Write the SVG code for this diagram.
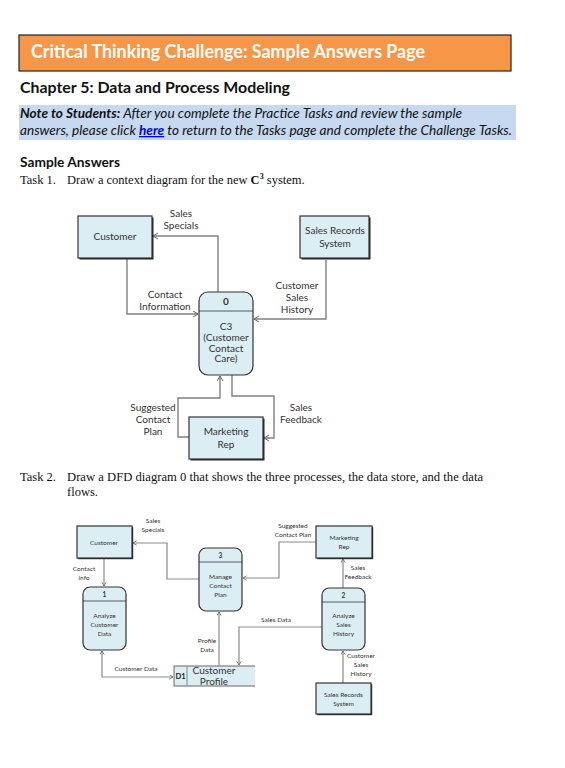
<svg xmlns="http://www.w3.org/2000/svg" width="565" height="768" viewBox="0 0 565 768">
<style>
.hd{font-family:Lato,"Open Sans",sans-serif;font-weight:bold;fill:#111}
.note{font-family:Lato,"Open Sans",sans-serif;font-style:italic;font-size:13px;fill:#111}
.ser{font-family:"Liberation Serif",serif;font-size:12.5px;fill:#111}
.lb{font-family:Lato,"Open Sans",sans-serif;font-size:10px;fill:#333;text-anchor:middle}
.lb2{font-family:Lato,"Open Sans",sans-serif;font-size:6.5px;fill:#333;text-anchor:middle}
.ent{fill:#dbeef4;stroke:#333;stroke-width:1.2}
.sh{fill:#222}
.proc{fill:#dbeef4;stroke:#333;stroke-width:1.2}
.div{stroke:#333;stroke-width:0.8}
.fl{fill:none;stroke:#808080;stroke-width:1.4}
.fl2{fill:none;stroke:#8a8a8a;stroke-width:1.2}
</style>
<defs>
<marker id="a1" markerUnits="userSpaceOnUse" markerWidth="8" markerHeight="8" refX="6" refY="3.5" orient="auto-start-reverse"><path d="M1,0.5 L6,3.5 L1,6.5" fill="none" stroke="#666" stroke-width="1"/></marker>
<marker id="a2" markerUnits="userSpaceOnUse" markerWidth="6" markerHeight="6" refX="4.5" refY="2.5" orient="auto-start-reverse"><path d="M0.8,0.3 L4.5,2.5 L0.8,4.7" fill="none" stroke="#666" stroke-width="0.8"/></marker>
</defs>
<rect width="565" height="768" fill="#fff"/>
<g id="header">
<rect x="19" y="35" width="492" height="36" fill="#f79646" stroke="#222" stroke-width="1.2"/>
<text x="31" y="58" font-family="Lato,'Open Sans',sans-serif" font-weight="bold" font-size="18" fill="#fff" textLength="394" lengthAdjust="spacingAndGlyphs">Critical Thinking Challenge:  Sample Answers Page</text>
<text class="hd" x="20" y="93" font-size="16" textLength="270" lengthAdjust="spacingAndGlyphs">Chapter 5:  Data and Process Modeling</text>
<rect x="19" y="105" width="497" height="35" fill="#c6d9f0"/>
<text class="note" x="20" y="118" textLength="442" lengthAdjust="spacingAndGlyphs"><tspan font-weight="bold">Note to Students:</tspan>  After you complete the Practice Tasks and review the sample</text>
<text class="note" x="20" y="135" textLength="492" lengthAdjust="spacingAndGlyphs">answers, please click <tspan font-weight="bold" fill="#0000ee" text-decoration="underline">here</tspan> to return to the Tasks page and complete the Challenge Tasks.</text>
<text class="hd" x="20" y="167" font-size="14" textLength="100" lengthAdjust="spacingAndGlyphs">Sample Answers</text>
<text class="ser" x="20" y="184">Task 1.</text>
<text class="ser" x="67" y="184">Draw a context diagram for the new <tspan font-weight="bold">C</tspan><tspan font-weight="bold" font-size="8" dy="-5">3</tspan><tspan dy="5"> system.</tspan></text>
<text class="ser" x="20" y="481">Task 2.</text>
<text class="ser" x="67" y="481" textLength="416" lengthAdjust="spacingAndGlyphs">Draw a DFD diagram 0 that shows the three processes, the data store, and the data</text>
<text class="ser" x="67" y="496">flows.</text>
</g>
<g id="connectors1">
<path class="fl" d="M218,292 V236 H153" marker-end="url(#a1)"/>
<path class="fl" d="M127,258 V314 H198" marker-end="url(#a1)"/>
<path class="fl" d="M326,260 V319 H254" marker-end="url(#a1)"/>
<path class="fl" d="M189,437 H178 V398 H220 V376" marker-end="url(#a1)"/>
<path class="fl" d="M232,375 V396 H274 V438 H264" marker-end="url(#a1)"/>
<text class="lb" x="181" y="217">Sales</text>
<text class="lb" x="181" y="229">Specials</text>
<text class="lb" x="165" y="298">Contact</text>
<text class="lb" x="165" y="310">Information</text>
<text class="lb" x="297" y="289">Customer</text>
<text class="lb" x="297" y="301">Sales</text>
<text class="lb" x="297" y="313">History</text>
<text class="lb" x="153" y="411">Suggested</text>
<text class="lb" x="153" y="423">Contact</text>
<text class="lb" x="153" y="435">Plan</text>
<text class="lb" x="301" y="411">Sales</text>
<text class="lb" x="301" y="423">Feedback</text>
</g>
<g id="t1-customer">
<rect class="sh" x="79.5" y="217.5" width="74" height="42"/>
<rect class="ent" x="78" y="216" width="74" height="42"/>
<text class="lb" x="115" y="240">Customer</text>
</g>
<g id="t1-salesrecords">
<rect class="sh" x="301.5" y="217.5" width="69" height="42"/>
<rect class="ent" x="300" y="216" width="69" height="42"/>
<text class="lb" x="335" y="234">Sales Records</text>
<text class="lb" x="335" y="247">System</text>
</g>
<g id="t1-process0">
<rect class="proc" x="199" y="292" width="54" height="83" rx="9"/>
<line class="div" x1="199" y1="311" x2="253" y2="311"/>
<text class="lb" x="226" y="305" font-size="8" font-weight="bold">0</text>
<text class="lb" x="226" y="330">C3</text>
<text class="lb" x="226" y="341" font-size="7">(Customer</text>
<text class="lb" x="226" y="351.5" font-size="7">Contact</text>
<text class="lb" x="226" y="362" font-size="7">Care)</text>
</g>
<g id="t1-marketing">
<rect class="sh" x="190.5" y="418.5" width="74" height="42"/>
<rect class="ent" x="189" y="417" width="74" height="42"/>
<text class="lb" x="226" y="435">Marketing</text>
<text class="lb" x="226" y="448">Rep</text>
</g>
<g id="connectors2">
<path class="fl2" d="M199,579 H167 V543 H133" marker-end="url(#a2)"/>
<path class="fl2" d="M104,558 V586" marker-end="url(#a2)"/>
<path class="fl2" d="M316,542 H279 V578 H243" marker-end="url(#a2)"/>
<path class="fl2" d="M343,588 V559" marker-end="url(#a2)"/>
<path class="fl2" d="M343,683 V651" marker-end="url(#a2)"/>
<path class="fl2" d="M322,627 H239 V665" marker-end="url(#a2)"/>
<path class="fl2" d="M219,666 V612" marker-end="url(#a2)"/>
<path class="fl2" d="M102,651 V677 H173" marker-start="url(#a2)" marker-end="url(#a2)"/>
<text class="lb2" x="153" y="523">Sales</text>
<text class="lb2" x="153" y="532">Specials</text>
<text class="lb2" x="84" y="571">Contact</text>
<text class="lb2" x="84" y="580">info</text>
<text class="lb2" x="293" y="528">Suggested</text>
<text class="lb2" x="293" y="537">Contact Plan</text>
<text class="lb2" x="358" y="570">Sales</text>
<text class="lb2" x="358" y="579">Feedback</text>
<text class="lb2" x="361" y="658">Customer</text>
<text class="lb2" x="361" y="667">Sales</text>
<text class="lb2" x="361" y="676">History</text>
<text class="lb2" x="276" y="622">Sales Data</text>
<text class="lb2" x="207" y="643">Profile</text>
<text class="lb2" x="207" y="652">Data</text>
<text class="lb2" x="136" y="671">Customer Data</text>
</g>
<g id="t2-customer">
<rect class="sh" x="78.2" y="527.2" width="55" height="32"/>
<rect class="ent" x="77" y="526" width="55" height="32"/>
<text class="lb2" x="104" y="545">Customer</text>
</g>
<g id="t2-marketing">
<rect class="sh" x="317.2" y="527.2" width="56" height="32"/>
<rect class="ent" x="316" y="526" width="56" height="32"/>
<text class="lb2" x="344" y="540">Marketing</text>
<text class="lb2" x="344" y="549">Rep</text>
</g>
<g id="t2-process3">
<rect class="proc" x="199" y="548" width="43" height="63" rx="7"/>
<line class="div" x1="199" y1="562" x2="242" y2="562"/>
<text class="lb2" x="220.5" y="558" font-weight="bold">3</text>
<text class="lb2" x="220.5" y="579">Manage</text>
<text class="lb2" x="220.5" y="588">Contact</text>
<text class="lb2" x="220.5" y="597">Plan</text>
</g>
<g id="t2-process1">
<rect class="proc" x="83" y="587" width="43" height="63" rx="7"/>
<line class="div" x1="83" y1="601" x2="126" y2="601"/>
<text class="lb2" x="104.5" y="597" font-weight="bold">1</text>
<text class="lb2" x="104.5" y="618">Analyze</text>
<text class="lb2" x="104.5" y="627">Customer</text>
<text class="lb2" x="104.5" y="636">Data</text>
</g>
<g id="t2-process2">
<rect class="proc" x="322" y="588" width="43" height="62" rx="7"/>
<line class="div" x1="322" y1="602" x2="365" y2="602"/>
<text class="lb2" x="343.5" y="598" font-weight="bold">2</text>
<text class="lb2" x="343.5" y="618">Analyze</text>
<text class="lb2" x="343.5" y="627">Sales</text>
<text class="lb2" x="343.5" y="636">History</text>
</g>
<g id="t2-salesrecords">
<rect class="sh" x="317.2" y="684.2" width="55" height="31"/>
<rect class="ent" x="316" y="683" width="55" height="31"/>
<text class="lb2" x="343.5" y="697">Sales Records</text>
<text class="lb2" x="343.5" y="706">System</text>
</g>
<g id="t2-store">
<rect x="174" y="666" width="81" height="20" fill="#dbeef4"/>
<path d="M255,666 H174 V686 H255" fill="none" stroke="#666" stroke-width="1"/>
<line x1="187" y1="666" x2="187" y2="686" stroke="#888" stroke-width="1"/>
<text x="180.5" y="679" font-family="Lato,sans-serif" font-size="7.5" font-weight="bold" fill="#222" text-anchor="middle">D1</text>
<text class="lb" x="214" y="673.5" font-size="7">Customer</text>
<text class="lb" x="214" y="684.5" font-size="7">Profile</text>
</g>
</svg>
